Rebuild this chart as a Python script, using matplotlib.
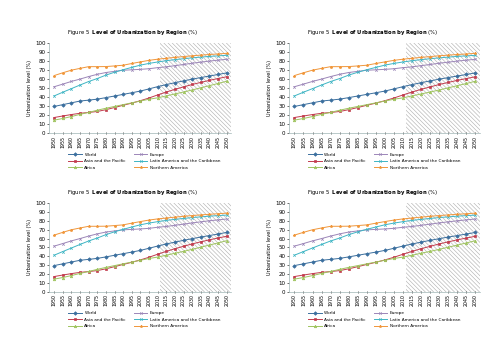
import matplotlib
matplotlib.use("Agg")
import matplotlib.pyplot as plt
from matplotlib.patches import Rectangle

years = [1950, 1955, 1960, 1965, 1970, 1975, 1980, 1985, 1990, 1995, 2000,
         2005, 2010, 2015, 2020, 2025, 2030, 2035, 2040, 2045, 2050]
world = [29.6, 31.6, 33.6, 35.6, 36.6, 37.7, 39.4, 41.2, 43.0, 44.8, 46.7,
         49.1, 51.6, 53.9, 56.0, 58.0, 59.9, 61.7, 63.4, 65.1, 66.9]
asia = [17.3, 19.0, 20.6, 22.0, 22.9, 24.0, 26.0, 28.4, 30.9, 33.3, 36.0,
        39.0, 42.4, 45.6, 48.6, 51.3, 54.0, 56.3, 58.6, 60.6, 62.6]
africa = [14.4, 16.2, 18.4, 20.8, 23.0, 25.4, 27.6, 29.6, 31.6, 33.6, 35.6,
          37.6, 39.2, 41.3, 43.5, 45.6, 47.9, 50.3, 52.7, 55.1, 57.6]
europe = [51.5, 54.4, 57.4, 60.0, 62.8, 65.3, 67.3, 68.6, 69.8, 70.3, 70.8,
          71.5, 72.7, 73.6, 74.9, 76.2, 77.6, 78.8, 80.0, 81.0, 82.0]
latam = [41.3, 45.4, 49.4, 53.4, 57.3, 60.6, 64.4, 67.6, 70.4, 73.0, 75.5,
         77.4, 79.0, 80.4, 81.6, 82.6, 83.6, 84.4, 85.2, 85.8, 86.4]
namerica = [63.9, 67.0, 69.9, 71.9, 73.8, 73.8, 73.9, 74.6, 75.4, 77.3, 79.1,
            80.8, 82.1, 83.1, 84.1, 85.0, 85.9, 86.6, 87.3, 87.9, 88.6]

series = [
    ("World", world, "#3b6f9e", "D"),
    ("Asia and the Pacific", asia, "#c23b4d", "s"),
    ("Africa", africa, "#9fc45e", "^"),
    ("Europe", europe, "#9c86b8", "x"),
    ("Latin America and the Caribbean", latam, "#3fb5c4", "x"),
    ("Northern America", namerica, "#f0963a", "*"),
]

yticks = list(range(0, 101, 10))
title_plain = "Figure 5  "
title_end = " (%)"

plt.rcParams["hatch.linewidth"] = 0.45
plt.rcParams["hatch.color"] = "#b4b4b4"

fig = plt.figure(figsize=(5.0, 3.53), dpi=100)
fs = 3.4

def panel(rect, title_xy, leg_x):
    ax = fig.add_axes(rect)
    x = list(range(len(years)))
    for name, vals, col, mk in series:
        ax.plot(x, vals, color=col, marker=mk, markersize=1.8, linewidth=0.7,
                markeredgewidth=0.5, label=name)
    ax.add_patch(Rectangle((12.3, 0), 20.5 - 12.3, 100, facecolor="none",
                           edgecolor="#b4b4b4", hatch="\\" * 8, linewidth=0, zorder=0))
    ax.set_xlim(-0.6, 20.5)
    ax.set_ylim(0, 100)
    ax.set_yticks(yticks)
    ax.set_xticks(x)
    ax.set_xticklabels([str(y) for y in years], rotation=90, fontsize=fs)
    ax.tick_params(axis="y", labelsize=fs + 0.6, length=1.5, width=0.4, pad=1)
    ax.tick_params(axis="x", length=1.5, width=0.4, pad=1, direction="inout")
    for s in ["top", "right"]:
        ax.spines[s].set_visible(False)
    for s in ["left", "bottom"]:
        ax.spines[s].set_linewidth(0.5)
        ax.spines[s].set_color("#9fb5b5")
    ax.set_ylabel("Urbanization level (%)", fontsize=fs + 0.2, labelpad=2)
    ax.legend(loc="upper left", bbox_to_anchor=(leg_x, -0.2), ncol=2,
              fontsize=3.1, frameon=False, handlelength=3.2,
              columnspacing=1.8, labelspacing=0.55, handletextpad=0.6,
              borderaxespad=0)
    tx, ty = title_xy
    fig.text(tx, ty, title_plain + r"$\bf{Level\ of\ Urbanization\ by\ Region}$" + title_end,
             ha="center", va="center", fontsize=fs + 0.4)
    return ax

panel([0.098, 0.623, 0.364, 0.255], (0.265, 0.909), 0.095)
panel([0.578, 0.623, 0.382, 0.255], (0.745, 0.909), 0.09)
panel([0.098, 0.173, 0.364, 0.252], (0.265, 0.456), 0.095)
panel([0.578, 0.173, 0.382, 0.252], (0.745, 0.456), 0.09)

fig.savefig("out.png", dpi=100)
